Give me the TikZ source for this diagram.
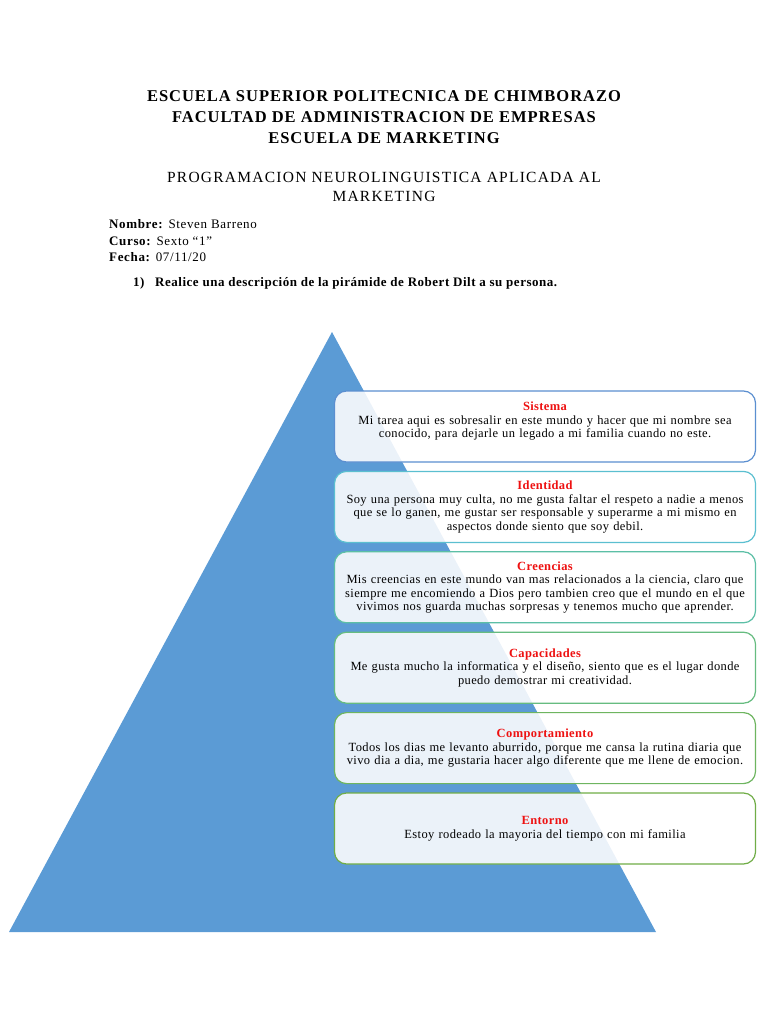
\documentclass[tikz,border=0pt]{standalone}
\usepackage{fontspec}
\setmainfont{Liberation Serif}
\usetikzlibrary{positioning}

\definecolor{pyrblue}{HTML}{5B9BD5}
\definecolor{lineA}{HTML}{5B8FD0}
\definecolor{lineB}{HTML}{5BBFD0}
\definecolor{lineC}{HTML}{5CBFA6}
\definecolor{lineD}{HTML}{66BC80}
\definecolor{lineE}{HTML}{6EB560}
\definecolor{lineF}{HTML}{70AD47}
\definecolor{titlered}{HTML}{EE1111}

\begin{document}
\begin{tikzpicture}[
    x=1pt, y=-1pt,
    node distance=9.4pt,
    header/.style={font=\fontsize{16.5}{21}\selectfont\bfseries\addfontfeature{LetterSpace=6}, align=center, inner sep=0pt},
    subheader/.style={font=\fontsize{15.5}{19}\selectfont\addfontfeature{LetterSpace=8}, align=center, inner sep=0pt},
    info/.style={anchor=west, font=\fontsize{13}{15}\selectfont\addfontfeature{LetterSpace=5}, inner sep=0pt},
    question/.style={anchor=west, font=\fontsize{13}{15}\selectfont\bfseries\addfontfeature{LetterSpace=4}, inner sep=0pt},
    level/.style={rectangle, rounded corners=12pt, draw, line width=1.2pt, fill=white, fill opacity=0.88, text opacity=1,
        minimum width=421pt, minimum height=71pt, text width=415pt, align=center, inner sep=0pt, outer sep=0pt,
        font=\fontsize{12.5}{13.5}\selectfont\addfontfeature{LetterSpace=3}}
]
\useasboundingbox (0,0) rectangle (768,1024);

% Heading
\node[header] (school) at (384,117) {ESCUELA SUPERIOR POLITECNICA DE CHIMBORAZO\\FACULTAD DE ADMINISTRACION DE EMPRESAS\\ESCUELA DE MARKETING};
\node[subheader] (subject) at (384,186.5) {PROGRAMACION NEUROLINGUISTICA APLICADA AL\\MARKETING};

% Student data
\node[info] (nombre) at (109,224) {\textbf{Nombre:} Steven Barreno};
\node[info] (curso) at (109,241) {\textbf{Curso:} Sexto “1”};
\node[info] (fecha) at (109,257) {\textbf{Fecha:} 07/11/20};

% Question
\node[question] (qnum) at (133,283) {1)};
\node[question] (qtext) at (155,283) {Realice una descripción de la pirámide de Robert Dilt a su persona.};

% Pyramid
\fill[pyrblue] (332,332) -- (656,932) -- (9,932) -- cycle;

% Levels
\node[level, draw=lineA] (sistema) at (545,426.5) {{\color{titlered}\bfseries Sistema}\\Mi tarea aqui es sobresalir en este mundo y hacer que mi nombre sea\\conocido, para dejarle un legado a mi familia cuando no este.\\\mbox{}};
\node[level, draw=lineB, below=of sistema] (identidad) {{\color{titlered}\bfseries Identidad}\\Soy una persona muy culta, no me gusta faltar el respeto a nadie a menos\\que se lo ganen, me gustar ser responsable y superarme a mi mismo en\\aspectos donde siento que soy debil.};
\node[level, draw=lineC, below=of identidad] (creencias) {{\color{titlered}\bfseries Creencias}\\Mis creencias en este mundo van mas relacionados a la ciencia, claro que\\siempre me encomiendo a Dios pero tambien creo que el mundo en el que\\vivimos nos guarda muchas sorpresas y tenemos mucho que aprender.};
\node[level, draw=lineD, below=of creencias] (capacidades) {{\color{titlered}\bfseries Capacidades}\\Me gusta mucho la informatica y el diseño, siento que es el lugar donde\\puedo demostrar mi creatividad.};
\node[level, draw=lineE, below=of capacidades] (comportamiento) {{\color{titlered}\bfseries Comportamiento}\\Todos los dias me levanto aburrido, porque me cansa la rutina diaria que\\vivo dia a dia, me gustaria hacer algo diferente que me llene de emocion.};
\node[level, draw=lineF, below=of comportamiento] (entorno) {{\color{titlered}\bfseries Entorno}\\Estoy rodeado la mayoria del tiempo con mi familia};

\end{tikzpicture}
\end{document}
